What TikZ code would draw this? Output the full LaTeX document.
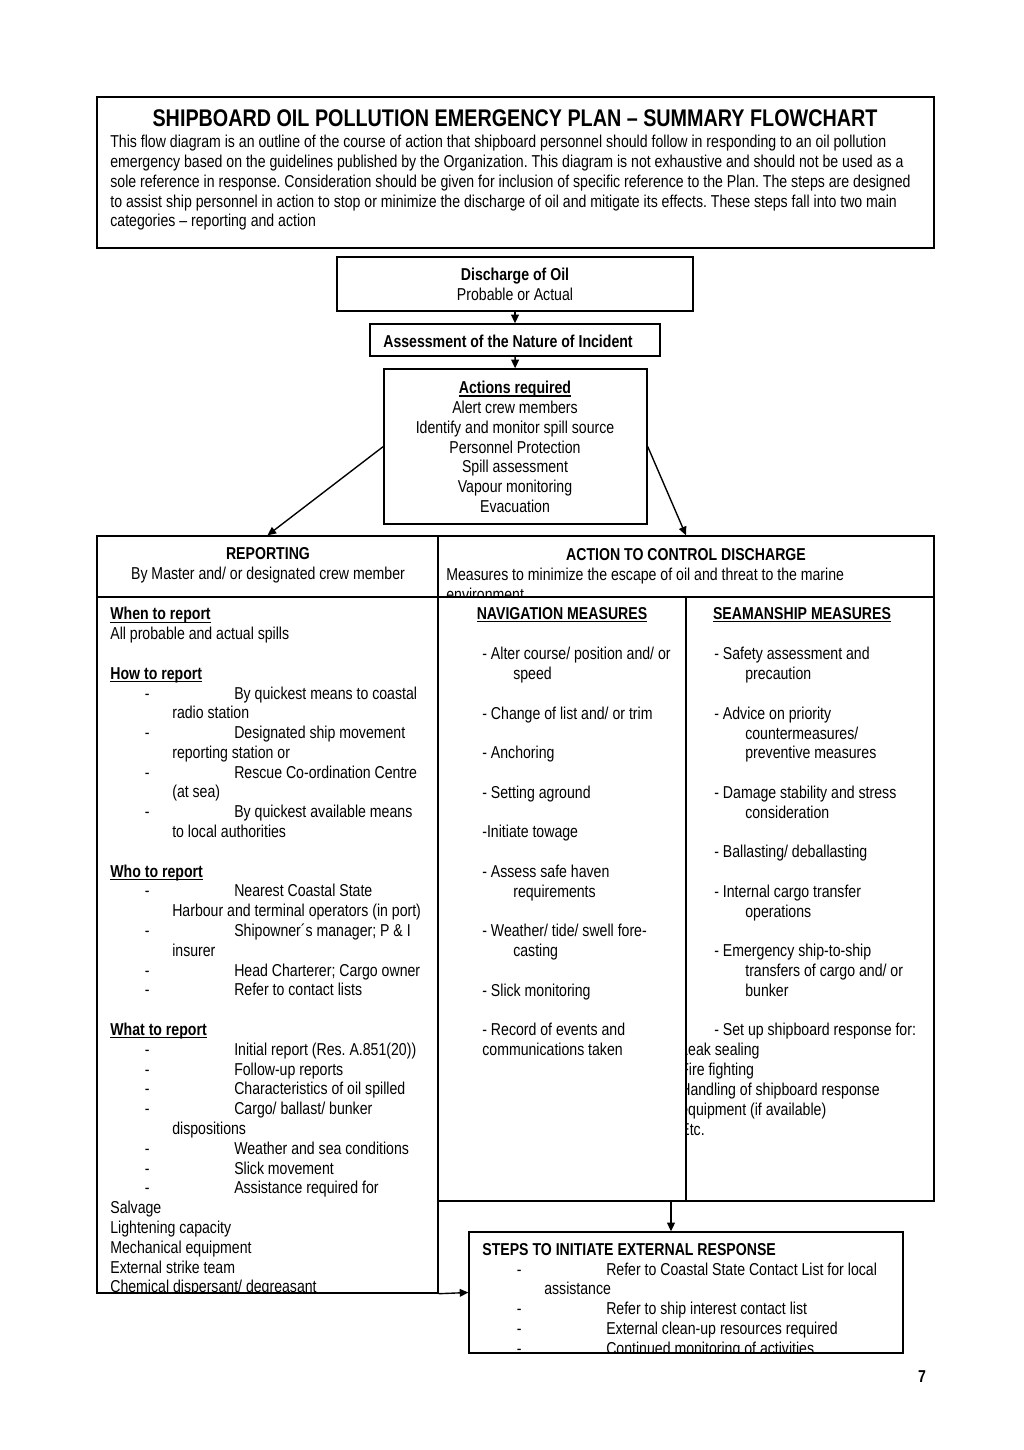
\documentclass[tikz,border=0pt]{standalone}
\usepackage{fontspec}
\setmainfont{Liberation Sans}[FakeStretch=0.82]
\usetikzlibrary{fit,arrows.meta}
\newsavebox\hdbox
\newcommand\hd[1]{\sbox\hdbox{\textbf{#1}}\usebox\hdbox\llap{\rule[-1.6pt]{\wd\hdbox}{0.6pt}}}
\newcommand\itm[1]{\hspace*{20pt}\makebox[52pt][l]{-}#1}
\newcommand\cnt[1]{\hspace*{36pt}#1}
\newcommand\sub[1]{\hspace*{18pt}#1}
\frenchspacing
\begin{document}
\begin{tikzpicture}[x=0.581pt,y=-0.581pt,
  box/.style={draw, line width=0.8pt, inner sep=0pt},
  txt/.style={inner sep=0pt, font=\fontsize{10}{11.5}\selectfont},
  arr/.style={line width=0.8pt, -{Triangle[length=5pt,width=4.5pt]}}
]
\useasboundingbox (0,0) rectangle (1024,1450);
% boxes
\node[box, fit={(97,97) (934,248)}] (intro) {};
\node[box, fit={(337,257) (693,311)}] (disch) {};
\node[box, fit={(370,324) (660,356)}] (assess) {};
\node[box, fit={(384,369) (647,524)}] (actions) {};
\node[box, fit={(97,536) (438,1293)}] (report) {};
\node[box, fit={(438,536) (934,1201)}] (action) {};
\node[box, fit={(469,1232) (903,1353)}] (steps) {};
\coordinate (hl) at (97,597);
\coordinate (hr) at (934,597);
\coordinate (dt) at (686,597);
\coordinate (dn) at (671,1201);
\draw[line width=0.8pt] (hl) -- (hr);
\draw[line width=0.8pt] (dt) -- (dt |- action.south);
% connectors
\draw[arr] (disch) -- (assess);
\draw[arr] (assess) -- (actions);
\draw[arr] (actions.west) -- (report.north);
\draw[arr] (actions.east) -- (action.north);
\draw[arr] (dn) -- (dn |- steps.north);
\draw[arr] (report.south east) -- (steps.west);
% texts
\node[inner sep=0pt, font=\fontsize{14}{16}\selectfont\bfseries] (title) at (515,118)
  {SHIPBOARD OIL POLLUTION EMERGENCY PLAN – SUMMARY FLOWCHART};
\node[txt, anchor=north west, align=left] (desc) at (110,135) {This flow diagram is an outline of the course of action that shipboard personnel should follow in responding to an oil pollution\\
emergency based on the guidelines published by the Organization. This diagram is not exhaustive and should not be used as a\\
sole reference in response. Consideration should be given for inclusion of specific reference to the Plan. The steps are designed\\
to assist ship personnel in action to stop or minimize the discharge of oil and mitigate its effects. These steps fall into two main\\
categories – reporting and action};
\node[txt, align=center] (dischtxt) at (515,284) {\textbf{Discharge of Oil}\\Probable or Actual};
\node[txt] (assesstxt) at (508,341) {\textbf{Assessment of the Nature of Incident}};
\node[txt, align=center] (actionstxt) at (515,447) {\hd{Actions required}\\Alert crew members\\Identify and monitor spill source\\Personnel Protection\\Spill assessment\\Vapour monitoring\\Evacuation};
\node[txt, align=center] (reporthd) at (268,565) {\textbf{REPORTING}\\By Master and/ or designated crew member};
\node[txt] (actionhd) at (686,555) {\textbf{ACTION TO CONTROL DISCHARGE}};
\begin{scope}
\clip (438,536) rectangle (934,597);
\node[txt, anchor=north west, align=left] (actionsub) at (446,568) {Measures to minimize the escape of oil and threat to the marine\\environment};
\end{scope}
\begin{scope}
\clip (97,597) rectangle (438,1293);
\node[txt, anchor=north west, align=left] (replist) at (110,607) {\hd{When to report}\\
All probable and actual spills\\
\mbox{}\\
\hd{How to report}\\
\itm{By quickest means to coastal}\\
\cnt{radio station}\\
\itm{Designated ship movement}\\
\cnt{reporting station or}\\
\itm{Rescue Co-ordination Centre}\\
\cnt{(at sea)}\\
\itm{By quickest available means}\\
\cnt{to local authorities}\\
\mbox{}\\
\hd{Who to report}\\
\itm{Nearest Coastal State}\\
\cnt{Harbour and terminal operators (in port)}\\
\itm{Shipowner´s manager; P \& I}\\
\cnt{insurer}\\
\itm{Head Charterer; Cargo owner}\\
\itm{Refer to contact lists}\\
\mbox{}\\
\hd{What to report}\\
\itm{Initial report (Res. A.851(20))}\\
\itm{Follow-up reports}\\
\itm{Characteristics of oil spilled}\\
\itm{Cargo/ ballast/ bunker}\\
\cnt{dispositions}\\
\itm{Weather and sea conditions}\\
\itm{Slick movement}\\
\itm{Assistance required for}\\
Salvage\\
Lightening capacity\\
Mechanical equipment\\
External strike team\\
Chemical dispersant/ degreasant};
\end{scope}
\node[txt] (navhd) at (562,615) {\hd{NAVIGATION MEASURES}};
\node[txt] (seamhd) at (802,615) {\hd{SEAMANSHIP MEASURES}};
\node[txt, anchor=north west, align=left] (navlist) at (482,647) {- Alter course/ position and/ or\\
\sub{speed}\\ \mbox{}\\
- Change of list and/ or trim\\ \mbox{}\\
- Anchoring\\ \mbox{}\\
- Setting aground\\ \mbox{}\\
-Initiate towage\\ \mbox{}\\
- Assess safe haven\\ \sub{requirements}\\ \mbox{}\\
- Weather/ tide/ swell fore-\\ \sub{casting}\\ \mbox{}\\
- Slick monitoring\\ \mbox{}\\
- Record of events and\\ communications taken};
\node[txt, anchor=north west, align=left] (seamlist) at (714,647) {- Safety assessment and\\
\sub{precaution}\\ \mbox{}\\
- Advice on priority\\ \sub{countermeasures/}\\ \sub{preventive measures}\\ \mbox{}\\
- Damage stability and stress\\ \sub{consideration}\\ \mbox{}\\
- Ballasting/ deballasting\\ \mbox{}\\
- Internal cargo transfer\\ \sub{operations}\\ \mbox{}\\
- Emergency ship-to-ship\\ \sub{transfers of cargo and/ or}\\ \sub{bunker}\\ \mbox{}\\
- Set up shipboard response for:};
\begin{scope}
\clip (687,1035) rectangle (934,1145);
\node[txt, anchor=north west, align=left] (seamsub) at (680,1043) {Leak sealing\\Fire fighting\\Handling of shipboard response\\equipment (if available)\\Etc.};
\end{scope}
\begin{scope}
\clip (469,1232) rectangle (903,1353);
\node[txt, anchor=north west, align=left] (stepstxt) at (482,1243) {\textbf{STEPS TO INITIATE EXTERNAL RESPONSE}\\
\itm{Refer to Coastal State Contact List for local}\\
\cnt{assistance}\\
\itm{Refer to ship interest contact list}\\
\itm{External clean-up resources required}\\
\itm{Continued monitoring of activities}};
\end{scope}
\node[inner sep=0pt, font=\fontsize{10}{12}\selectfont\bfseries] (pg) at (922,1377) {7};
\end{tikzpicture}
\end{document}
